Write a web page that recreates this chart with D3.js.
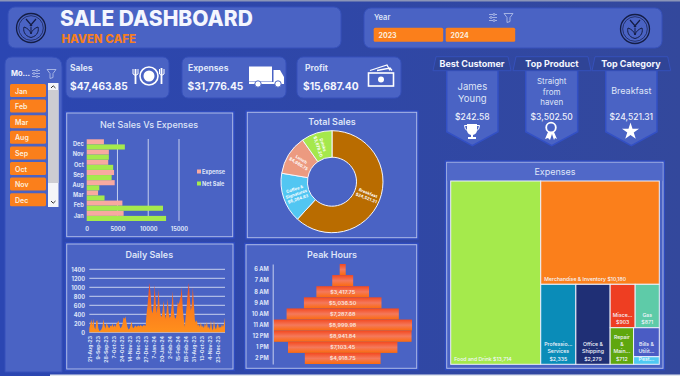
<!DOCTYPE html>
<html>
<head>
<meta charset="utf-8">
<script src="https://cdn.jsdelivr.net/npm/d3@7"></script>
<style>
html, body { margin: 0; padding: 0; background: #2f47a6; overflow: hidden; }
svg { display: block; font-family: Inter, "Open Sans", sans-serif; }
</style>
</head>
<body>
<div id="chart"></div>
<script>
// Data
const months = ["Jan", "Feb", "Mar", "Aug", "Sep", "Oct", "Nov", "Dec"];
const expenseByMonth = [6000, 5800, 1850, 4550, 4450, 3500, 3600, 2800];
const netSaleByMonth = [12900, 12400, 2900, 2050, 4050, 4300, 3600, 6200];
const netTicks = [0, 5000, 10000, 15000];

const years = ["2023", "2024"];

const salesCategories = ["Breakfast", "Coffee & Signatures", "Lunch", "Drinks"];
const salesValues = [24521.31, 6264.83, 4980.75, 3878.20];
const salesLabelLines = [["Breakfast", "$24,521.31"], ["Coffee &", "Signatures", "$6,264.83"], ["Lunch", "$4,980.75"], ["Drinks", "$3,878.20"]];
const salesColors = ["#b96c00", "#52c6f2", "#ec9a80", "#a5e84c"];

const dailyTicks = [0, 200, 400, 600, 800, 1000, 1200, 1400];
const dailyDateLabels = ["21-Aug-23", "9-Sep-23", "28-Sep-23", "7-Oct-23", "24-Oct-23", "14-Nov-23", "9-Dec-23", "27-Dec-23", "7-Jan-24", "20-Jan-24", "2-Feb-24", "15-Feb-24", "28-Feb-24", "31-Aug-23", "13-Oct-23", "4-Nov-23", "23-Dec-23"];
const dailySales = [
    90, 180, 290, 150, 300, 120, 60, 250,
    270, 90, 30, 40, 60, 120, 290, 170,
    80, 200, 170, 110, 90, 150, 130, 190,
    110, 170, 120, 190, 210, 260, 150, 90,
    120, 180, 330, 300, 350, 220, 120, 60,
    80, 150, 240, 120, 90, 130, 150, 120,
    140, 150, 130, 160, 140, 130, 160, 150,
    140, 420, 620, 900, 1100, 850, 500, 420,
    620, 1060, 700, 420, 620, 960, 560, 380,
    340, 500, 700, 420, 300, 480, 750, 420,
    320, 360, 600, 920, 480, 330, 300, 420,
    680, 620, 720, 800, 1000, 520, 300, 120,
    380, 620, 900, 1100, 760, 480, 620, 1000,
    640, 280, 220, 270, 140, 180, 120, 220,
    110, 150, 90, 200, 130, 230, 90, 130,
    60, 260, 90, 40, 270, 110, 60, 150,
    200, 90, 130, 100, 180, 120, 190, 330
];

const peakHours = ["6 AM", "7 AM", "8 AM", "9 AM", "10 AM", "11 AM", "12 PM", "1 PM", "2 PM"];
const peakValues = [390, 1360, 3417.75, 5036.5, 7287.68, 8999.98, 8941.84, 7103.45, 4918.75];
const peakLabels = ["", "", "$3,417.75", "$5,036.50", "$7,287.68", "$8,999.98", "$8,941.84", "$7,103.45", "$4,918.75"];

const expenseNames = ["Food and Drink", "Merchandise & Inventory", "Professional Services", "Office & Shipping", "Miscellaneous", "Gas", "Repair & Maintenance", "Bills & Utilities", "Pest Control"];
const expenseValues = [13714, 10180, 2335, 2279, 903, 871, 712, 620, 162];
const expenseLines = [["Food and Drink $13,714"], ["Merchandise & Inventory $10,180"], ["Professio...", "Services", "$2,335"], ["Office &", "Shipping", "$2,279"], ["Misce...", "$903"], ["Gas", "$871"], ["Repair", "&", "Main...", "$712"], ["Bills &", "Utilit..."], ["Pest..."]];
const expenseColors = ["#a5ea4c", "#fb7f1b", "#0a8cb8", "#1f2f75", "#ee3e22", "#5ecba8", "#5fa70e", "#4a5cc4", "#4fc9f2"];

const PANEL = "#4a63c4";
const LINE = "#c6d0ee";
const TEXT = "#dfe5f8";

const svg = d3.select("#chart").append("svg")
    .attr("width", 680)
    .attr("height", 376);

const defs = svg.append("defs");

const bg = defs.append("linearGradient").attr("id", "bg");
bg.append("stop").attr("offset", "0").attr("stop-color", "#2b46b2");
bg.append("stop").attr("offset", "1").attr("stop-color", "#33489c");

const areaFill = defs.append("linearGradient").attr("id", "areaFill")
    .attr("gradientUnits", "userSpaceOnUse")
    .attr("x1", 0).attr("x2", 0).attr("y1", 332).attr("y2", 282);
areaFill.append("stop").attr("offset", "0").attr("stop-color", "#ff8f1c");
areaFill.append("stop").attr("offset", "0.45").attr("stop-color", "#fb7d1c");
areaFill.append("stop").attr("offset", "1").attr("stop-color", "#e2432c");

const stripe = defs.append("linearGradient").attr("id", "stripe")
    .attr("x1", 0).attr("x2", 0).attr("y1", 0).attr("y2", 1);
stripe.append("stop").attr("offset", "0").attr("stop-color", "#f4491f");
stripe.append("stop").attr("offset", "0.5").attr("stop-color", "#f4795c");
stripe.append("stop").attr("offset", "1").attr("stop-color", "#fc6a0c");

svg.append("rect").attr("width", 680).attr("height", 376).attr("fill", "url(#bg)");
// Ljusa kanter i skärmdumpen
svg.append("rect").attr("width", 680).attr("height", 1.5).attr("fill", "#8b95b8");
svg.append("rect").attr("x", 50).attr("y", 374.5).attr("width", 630).attr("height", 1.5).attr("fill", "#dfe4ee");

function card(x0, y0, x1, y1, r) {
    return svg.append("rect")
        .attr("x", x0).attr("y", y0)
        .attr("width", x1 - x0).attr("height", y1 - y0)
        .attr("rx", r).attr("fill", PANEL)
        .attr("stroke", "#3651bb").attr("stroke-width", 1);
}

function chartPanel(x0, y0, x1, y1) {
    svg.append("rect")
        .attr("x", x0 - 2).attr("y", y0 - 2)
        .attr("width", x1 - x0 + 4).attr("height", y1 - y0 + 4)
        .attr("fill", "#2f4cc0");
    svg.append("rect")
        .attr("x", x0).attr("y", y0)
        .attr("width", x1 - x0).attr("height", y1 - y0)
        .attr("fill", PANEL)
        .attr("stroke", "#aebbe8").attr("stroke-width", 1);
}

function label(x, y, str, size, weight, anchor, color) {
    return svg.append("text")
        .attr("x", x).attr("y", y)
        .attr("font-size", size)
        .attr("font-weight", weight || 400)
        .attr("text-anchor", anchor || "start")
        .attr("fill", color || TEXT)
        .text(str);
}

function logo(cx, cy) {
    const g = svg.append("g").attr("transform", `translate(${cx},${cy})`)
        .attr("fill", "none").attr("stroke", "#141d45");
    g.append("circle").attr("r", 14.5).attr("stroke-width", 1.3);
    g.append("circle").attr("r", 12.3).attr("stroke-width", 0.7);
    g.append("path").attr("stroke-width", 1.2).attr("d", "M-5,-9L1,-2M5,-9L-1,-2");
    g.append("path").attr("stroke-width", 1).attr("d", "M0,9.5C-7,8 -8,2 -7,-1C-4,0 -1,2 0,6C1,2 4,0 7,-1C8,2 7,8 0,9.5ZM0,6V-1");
}

// Små ikoner för slicers
function slicerIcons(x, y) {
    const g = svg.append("g").attr("transform", `translate(${x},${y})`)
        .attr("fill", "none").attr("stroke", "#aebbe8").attr("stroke-width", 0.9);
    [-3, 0, 3].forEach(d => g.append("path").attr("d", `M-4,${d}H4`));
    g.append("circle").attr("cx", 1).attr("cy", -3).attr("r", 1).attr("fill", PANEL);
    g.append("circle").attr("cx", -2).attr("cy", 0).attr("r", 1).attr("fill", PANEL);
    g.append("circle").attr("cx", 1).attr("cy", 3).attr("r", 1).attr("fill", PANEL);
    g.append("path").attr("d", "M11,-4H20L17,0V4L14,5V0Z");
}

// Sidhuvud
card(8, 7, 341, 48, 7);
card(364, 8, 662, 48, 7);
logo(31, 28);
logo(635, 29);
label(60, 25.5, "SALE DASHBOARD", 21, 800, "start", "#f4f6fe");
label(61.5, 43, "HAVEN CAFE", 11.5, 800, "start", "#f57f1f");

label(374, 20, "Year", 7.5, 600);
slicerIcons(493, 17.5);
svg.selectAll(".year").data(years).enter().append("g").attr("class", "year").each(function (d, i) {
    const g = d3.select(this);
    g.append("rect").attr("x", 373.7 + i * 72).attr("y", 27.7)
        .attr("width", 69.5).attr("height", 14).attr("rx", 1.5).attr("fill", "#fb7f1b");
    g.append("text").attr("x", 378.5 + i * 72).attr("y", 37.5)
        .attr("font-size", 7).attr("font-weight", 700).attr("fill", "#fdeede").text(d);
});

// Månadsslicer
svg.append("path")
    .attr("d", "M12,57H52Q62,57 62,67V372H5V64Q5,57 12,57Z")
    .attr("fill", PANEL).attr("stroke", "#3651bb");
label(11, 76, "Mo...", 7.5, 700, "start", "#f4f6fe");
slicerIcons(36, 73.5);
svg.selectAll(".month").data(months).enter().append("g").attr("class", "month").each(function (d, i) {
    const g = d3.select(this);
    g.append("rect").attr("x", 10).attr("y", 84 + i * 15.6)
        .attr("width", 36).attr("height", 13).attr("rx", 1.5).attr("fill", "#fb7f1b");
    g.append("text").attr("x", 15).attr("y", 93.6 + i * 15.6)
        .attr("font-size", 7).attr("font-weight", 600).attr("fill", "#fdeede").text(d);
});
svg.append("rect").attr("x", 48).attr("y", 83).attr("width", 10.5).attr("height", 124).attr("fill", "#f4f5f8");
svg.append("rect").attr("x", 48).attr("y", 90).attr("width", 10.5).attr("height", 93).attr("fill", "#cdcdd2");
svg.append("path").attr("d", "M51,88L53.2,85.8L55.5,88M51,201L53.2,203.2L55.5,201")
    .attr("fill", "none").attr("stroke", "#333").attr("stroke-width", 1);

// KPI-kort
card(66, 57, 169, 98, 6);
card(182, 57, 286, 98, 6);
card(297, 57, 401, 98, 6);
label(70, 71, "Sales", 8.5, 700);
label(70, 89.5, "$47,463.85", 10.2, 700, "start", "#f4f6fe");
label(188, 71, "Expenses", 8.5, 700);
label(187.5, 89.5, "$31,776.45", 10.2, 700, "start", "#f4f6fe");
label(305, 71, "Profit", 8.5, 700);
label(303, 89.5, "$15,687.40", 10.2, 700, "start", "#f4f6fe");

// Tallrik
const plate = svg.append("g").attr("transform", "translate(149,76)").attr("fill", "none").attr("stroke", "#fff");
plate.append("circle").attr("r", 9).attr("stroke-width", 1.6);
plate.append("circle").attr("r", 5.5).attr("fill", "#fff").attr("stroke", "none");
plate.append("path").attr("stroke-width", 1.8).attr("d", "M-13.5,-7V8M12.5,-8V8");
plate.append("path").attr("stroke-width", 1).attr("d", "M-16,-7V-2Q-13.5,1 -11,-2V-7M10.5,-7V-2Q12.5,1 15,-2V-7");

// Lastbil
const truck = svg.append("g").attr("transform", "translate(270,76)").attr("fill", "#fff");
truck.append("rect").attr("x", -21).attr("y", -9.5).attr("width", 23).attr("height", 15);
truck.append("path").attr("d", "M3.5,-6H10L14,1V7H3.5Z");
truck.append("rect").attr("x", -21).attr("y", 6).attr("width", 35).attr("height", 2);
truck.append("circle").attr("cx", -12).attr("cy", 8).attr("r", 3.2).attr("stroke", PANEL);
truck.append("circle").attr("cx", 8).attr("cy", 8).attr("r", 3.2).attr("stroke", PANEL);

// Sedlar
const money = svg.append("g").attr("transform", "translate(381,78)").attr("fill", "none").attr("stroke", "#fff");
money.append("rect").attr("x", -12.5).attr("y", -5).attr("width", 25).attr("height", 13).attr("stroke-width", 1.6);
money.append("circle").attr("cy", 1.5).attr("r", 3).attr("fill", "#fff").attr("stroke", "none");
money.append("path").attr("stroke-width", 1.3).attr("d", "M-11,-7.5L6,-13L9,-7.5M-4,-7.5L9,-10L11,-7.5");

// Band med toppvärden
const ribbons = [
    { cx: 472, l: 433, r: 511, bl: 446.7, br: 498, title: "Best Customer", lines: [[90, "James", 9.5], [102, "Young", 9.5]], value: "$242.58" },
    { cx: 552, l: 513, r: 591, bl: 525.7, br: 577.7, title: "Top Product", lines: [[84, "Straight", 8], [95, "from", 8], [105, "haven", 8]], value: "$3,502.50" },
    { cx: 631, l: 592, r: 670.7, bl: 605.7, br: 657, title: "Top Category", lines: [[94, "Breakfast", 9]], value: "$24,521.31" }
];
ribbons.forEach(d => {
    const mid = (d.bl + d.br) / 2;
    svg.append("path")
        .attr("d", `M${d.bl},70V131.7L${mid},145.7L${d.br},131.7V70Z`)
        .attr("fill", PANEL).attr("stroke", "#3350c4").attr("stroke-width", 1.5);
    svg.append("path")
        .attr("d", `M${d.l + 3},56.7H${d.r - 3}L${d.r},70.7H${d.l}Z`)
        .attr("fill", "#2f4496").attr("stroke", "#3651bb");
    label(d.cx, 67, d.title, 9, 700, "middle", "#f4f6fe");
    d.lines.forEach(l => label(mid, l[0], l[1], l[2], 400, "middle"));
    label(mid, 119.5, d.value, 8.5, 500, "middle", "#eef1fb");
});

// Pokal
const trophy = svg.append("g").attr("transform", "translate(472,131)").attr("fill", "#fff");
trophy.append("path").attr("d", "M-5,-7H5V-1Q5,3 1,4V6H4V8H-4V6H-1V4Q-5,3 -5,-1Z");
trophy.append("path").attr("fill", "none").attr("stroke", "#fff").attr("stroke-width", 1).attr("d", "M-5,-5.5H-7.5Q-7.5,-1 -4,0M5,-5.5H7.5Q7.5,-1 4,0");
// Rosett
const rosette = svg.append("g").attr("transform", "translate(551,130)");
rosette.append("path").attr("fill", "#fff").attr("d", "M-3,2L-6,9L-3,8L-1,10L1,4L3,10L4,8L6,9L3,2Z");
rosette.append("circle").attr("cy", -2.5).attr("r", 4.8).attr("fill", PANEL).attr("stroke", "#fff").attr("stroke-width", 1.8);
// Stjärna
svg.append("path").attr("transform", "translate(630.5,131.5)").attr("fill", "#fff")
    .attr("d", d3.symbol().type(d3.symbolStar).size(90)());

// Net Sales Vs Expenses
chartPanel(66.7, 113, 232.7, 236.7);
label(149, 128, "Net Sales Vs Expenses", 9, 500, "middle");

const netX = d3.scaleLinear().domain([0, 15000]).range([86.7, 179]);
const netY = d3.scaleBand().domain(months).range([221, 139.3]);
const netInner = d3.scaleBand().domain(["net", "expense"]).range([netY.bandwidth(), 0]);

svg.append("g").selectAll("line").data(netTicks.slice(1)).enter().append("line")
    .attr("x1", d => netX(d)).attr("x2", d => netX(d))
    .attr("y1", 139).attr("y2", 221)
    .attr("stroke", LINE).attr("stroke-width", 1);

svg.append("g").selectAll("rect").data(months).enter().append("rect")
    .attr("x", netX(0))
    .attr("y", d => netY(d) + netInner("expense"))
    .attr("width", (d, i) => netX(expenseByMonth[i]) - netX(0))
    .attr("height", netInner.bandwidth())
    .attr("fill", "#f8a9a0");
svg.append("g").selectAll("rect").data(months).enter().append("rect")
    .attr("x", netX(0))
    .attr("y", d => netY(d) + netInner("net"))
    .attr("width", (d, i) => netX(netSaleByMonth[i]) - netX(0))
    .attr("height", netInner.bandwidth())
    .attr("fill", "#a5ea4c");

const netAxisX = svg.append("g").attr("transform", "translate(0,224)")
    .call(d3.axisBottom(netX).tickValues(netTicks).tickFormat(d3.format("d")).tickSize(0));
const netAxisY = svg.append("g").attr("transform", "translate(86.7,0)")
    .call(d3.axisLeft(netY).tickSize(0).tickPadding(3));

[["Expense", 171.5, "#f8a9a0"], ["Net Sale", 183.5, "#a5ea4c"]].forEach(d => {
    svg.append("rect").attr("x", 197).attr("y", d[1] - 2).attr("width", 4).attr("height", 4).attr("fill", d[2]);
    label(202, d[1] + 2.2, d[0], 5.5, 700);
});

// Total Sales
chartPanel(247.3, 112.3, 416.7, 237.7);
label(332, 125, "Total Sales", 9, 600, "middle");

const pie = d3.pie().sort(null)(salesValues);
const arc = d3.arc().innerRadius(24.5).outerRadius(51);
const donut = svg.append("g").attr("transform", "translate(332,181.7)");
donut.selectAll("path").data(pie).enter().append("path")
    .attr("d", arc)
    .attr("fill", (d, i) => salesColors[i])
    .attr("stroke", "#f4f6fe").attr("stroke-width", 1);
donut.selectAll("text").data(pie).enter().append("text")
    .attr("transform", d => {
        const a = (d.startAngle + d.endAngle) / 2 * 180 / Math.PI;
        const rot = a < 180 ? a - 90 : a - 270;
        return `translate(${arc.centroid(d)}) rotate(${rot})`;
    })
    .attr("text-anchor", "middle")
    .attr("font-size", 4.2)
    .attr("font-weight", 700)
    .attr("fill", "#fff")
    .each(function (d, i) {
        const lines = salesLabelLines[i];
        d3.select(this).selectAll("tspan").data(lines).enter().append("tspan")
            .attr("x", 0)
            .attr("y", (l, j) => (j - (lines.length - 1) / 2) * 5.2 + 1.5)
            .text(l => l);
    });

// Daily Sales
chartPanel(66.7, 244, 233, 369);
label(149.3, 257.5, "Daily Sales", 9, 600, "middle");

const dailyX = d3.scaleLinear().domain([0, dailySales.length - 1]).range([89.3, 225]);
const dailyY = d3.scaleLinear().domain([0, 1400]).range([332.3, 269.3]);

svg.append("g").selectAll("line").data(dailyTicks).enter().append("line")
    .attr("x1", 89.3).attr("x2", 225)
    .attr("y1", d => dailyY(d)).attr("y2", d => dailyY(d))
    .attr("stroke", LINE).attr("stroke-width", 1);

svg.append("path")
    .datum(dailySales)
    .attr("fill", "url(#areaFill)")
    .attr("d", d3.area().x((d, i) => dailyX(i)).y0(dailyY(0)).y1(d => dailyY(d)));

const dailyAxisY = svg.append("g").attr("transform", "translate(86,0)")
    .call(d3.axisLeft(dailyY).tickValues(dailyTicks).tickFormat(d3.format("d")).tickSize(0).tickPadding(1));

const dailyAxisX = svg.append("g").attr("transform", "translate(0,334)")
    .call(d3.axisBottom(dailyX)
        .tickValues(dailyDateLabels.map((d, i) => i * 8))
        .tickFormat((d, i) => dailyDateLabels[i])
        .tickSize(0));

// Peak Hours
chartPanel(246, 244.7, 416.7, 368.3);
label(332, 258, "Peak Hours", 9, 600, "middle");

const peakY = d3.scaleBand().domain(peakHours).range([264, 364]);
const peakW = d3.scaleLinear().domain([0, d3.max(peakValues)]).range([0, 69.3]);
const peakCx = 342.7;

svg.append("g").selectAll("rect").data(peakHours).enter().append("rect")
    .attr("x", (d, i) => peakCx - peakW(peakValues[i]))
    .attr("y", d => peakY(d))
    .attr("width", (d, i) => 2 * peakW(peakValues[i]))
    .attr("height", peakY.bandwidth())
    .attr("fill", "url(#stripe)");
svg.append("g").selectAll("text").data(peakHours).enter().append("text")
    .attr("x", peakCx)
    .attr("y", d => peakY(d) + peakY.bandwidth() / 2 + 2)
    .attr("text-anchor", "middle")
    .attr("font-size", 5.4).attr("font-weight", 600).attr("fill", "#fbe6dc")
    .text((d, i) => peakLabels[i]);

const peakAxis = svg.append("g").attr("transform", "translate(272.7,0)")
    .call(d3.axisLeft(peakY).tickSize(0).tickPadding(4));
peakAxis.select(".domain").attr("stroke", LINE).attr("stroke-width", 1);

[netAxisX, netAxisY, dailyAxisY, dailyAxisX, peakAxis].forEach(a => {
    a.selectAll("text")
        .attr("fill", TEXT)
        .attr("font-size", 5.6)
        .attr("font-weight", 700)
        .attr("font-family", "Inter, sans-serif");
});
[netAxisX, netAxisY, dailyAxisY, dailyAxisX].forEach(a => a.select(".domain").remove());
// Datumen står lodrätt
dailyAxisX.selectAll("text")
    .attr("transform", "rotate(-90)")
    .attr("text-anchor", "end")
    .attr("font-size", 5)
    .attr("x", -2).attr("y", 0).attr("dy", "0.35em");

// Expenses
chartPanel(446.7, 162.3, 663, 368.3);
svg.append("rect").attr("x", 447.2).attr("y", 162.8).attr("width", 215.3).attr("height", 18).attr("fill", "#5068c8");
label(555, 174.5, "Expenses", 9, 400, "middle");

// Trädet följer rutornas uppdelning i originalet: omväxlande kolumner och rader
const leaf = i => ({ name: expenseNames[i], value: expenseValues[i], index: i });
const expenseTree = {
    children: [leaf(0), {
        children: [leaf(1), {
            children: [leaf(2), leaf(3), {
                children: [{ children: [leaf(4), leaf(5)] }, {
                    children: [leaf(6), { children: [leaf(7), leaf(8)] }]
                }]
            }]
        }]
    }]
};
const expenseRoot = d3.hierarchy(expenseTree).sum(d => d.value || 0);
d3.treemap()
    .size([208.6, 183.3])
    .paddingInner(0)
    .tile((node, x0, y0, x1, y1) => (node.depth % 2 ? d3.treemapSlice : d3.treemapDice)(node, x0, y0, x1, y1))(expenseRoot);

const cells = svg.append("g").attr("transform", "translate(450.7,181)")
    .selectAll("g").data(expenseRoot.leaves()).enter().append("g")
    .attr("transform", d => `translate(${d.x0},${d.y0})`);
cells.append("rect")
    .attr("width", d => d.x1 - d.x0)
    .attr("height", d => d.y1 - d.y0)
    .attr("fill", d => expenseColors[d.data.index])
    .attr("stroke", "#eef1fb").attr("stroke-width", 1);
cells.append("title").text(d => d.data.name);
cells.each(function (d) {
    const lines = expenseLines[d.data.index];
    const w = d.x1 - d.x0, h = d.y1 - d.y0;
    const wide = lines.length === 1 && w > 40;
    lines.forEach((l, j) => {
        d3.select(this).append("text")
            .attr("x", wide ? 3.5 : w / 2)
            .attr("y", h - 3.5 - (lines.length - 1 - j) * 7.4)
            .attr("text-anchor", wide ? "start" : "middle")
            .attr("font-size", 5.2)
            .attr("font-weight", 500)
            .attr("fill", "#f4f6fe")
            .text(l);
    });
});
</script>
</body>
</html>
